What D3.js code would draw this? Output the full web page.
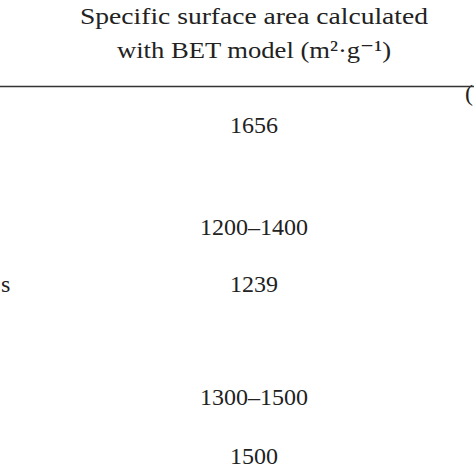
<!DOCTYPE html>
<html><head><meta charset="utf-8">
<script src="https://cdn.jsdelivr.net/npm/d3@7"></script>
<style>body{margin:0;background:#fff}</style>
</head><body>
<svg id="t" width="474" height="474"></svg>
<script>
const headerLines = ["Specific surface area calculated", "with BET model (m²·g⁻¹)"];
const headerWidths = [348, 274];
const values = ["1656", "1200–1400", "1239", "1300–1500", "1500"];
const leftLabels = ["", "", "s", "", ""];

// row centre positions (px)
const rowY = [125, 227, 284, 397, 456];

const svg = d3.select("#t");
const font = "'Liberation Serif', 'DejaVu Serif', serif";
const cx = 254;

svg.selectAll("text.h").data(headerLines).join("text")
  .attr("x", cx).attr("y", (d, i) => 24 + i * 34)
  .attr("text-anchor", "middle").attr("font-family", font)
  .attr("font-size", 24).attr("fill", "#222")
  .attr("textLength", (d, i) => headerWidths[i]).attr("lengthAdjust", "spacingAndGlyphs")
  .text(d => d);

svg.append("text").attr("x", 465).attr("y", 101)
  .attr("font-family", font).attr("font-size", 24).attr("fill", "#222").text("(");

svg.append("line").attr("x1", 0).attr("x2", 474).attr("y1", 86.5).attr("y2", 86.5)
  .attr("stroke", "#333").attr("stroke-width", 1.3);

svg.selectAll("text.v").data(values).join("text")
  .attr("x", cx).attr("y", (d, i) => rowY[i]).attr("dy", "0.35em")
  .attr("text-anchor", "middle").attr("font-family", font)
  .attr("font-size", 24).attr("fill", "#222").text(d => d);

svg.selectAll("text.l").data(leftLabels).join("text")
  .attr("x", 1).attr("y", (d, i) => rowY[i]).attr("dy", "0.35em")
  .attr("font-family", font).attr("font-size", 24).attr("fill", "#222").text(d => d);
</script>
</body></html>
